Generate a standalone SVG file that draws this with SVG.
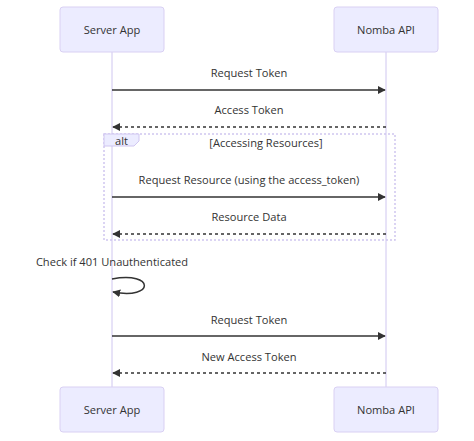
<svg xmlns="http://www.w3.org/2000/svg" width="474" height="441" viewBox="0 0 474 441">
<style>
text{font-family:"Open Sans","Liberation Sans",sans-serif;font-size:11.1px;fill:#333;}
.actor{fill:#ECECFF;stroke:#d9d0f3;stroke-width:1;}
.life{stroke:#cfc6f0;stroke-width:1;}
.msg{stroke:#333;stroke-width:1.5;fill:none;}
.dash{stroke-dasharray:3,3;}
.loop{fill:none;stroke:#d0c6f0;stroke-width:1.5;stroke-dasharray:2,2;}
.tab{fill:#ECECFF;stroke:#d0c6f0;stroke-width:1;}
</style>
<defs>
<marker id="ah" viewBox="0 0 10 10" refX="9" refY="5" markerWidth="8" markerHeight="8" markerUnits="userSpaceOnUse" orient="auto">
<path d="M0,0 L10,5 L0,10 z" fill="#333"/>
</marker>
</defs>
<rect width="474" height="441" fill="#fff"/>
<g id="lifelines">
<line class="life" x1="112" y1="52" x2="112" y2="387"/>
<line class="life" x1="386" y1="52" x2="386" y2="387"/>
</g>
<g id="actor-server-top">
<rect class="actor" x="60" y="7" width="104" height="45" rx="3"/>
<text x="112" y="34" text-anchor="middle">Server App</text>
</g>
<g id="actor-nomba-top">
<rect class="actor" x="334" y="7" width="104" height="45" rx="3"/>
<text x="386" y="34" text-anchor="middle">Nomba API</text>
</g>
<g id="alt-block">
<rect class="loop" x="104" y="134" width="291" height="106"/>
<path class="tab" d="M104,134 L139,134 L139,141 L134,146 L104,146 Z"/>
<text x="115" y="145">alt</text>
<text x="266" y="147" text-anchor="middle">[Accessing Resources]</text>
</g>
<g id="connectors">
<text x="249" y="77" text-anchor="middle">Request Token</text>
<line class="msg" x1="112" y1="90" x2="385" y2="90" marker-end="url(#ah)"/>
<text x="249" y="114" text-anchor="middle">Access Token</text>
<line class="msg dash" x1="386" y1="127" x2="113" y2="127" marker-end="url(#ah)"/>
<text x="249" y="184" text-anchor="middle">Request Resource (using the access_token)</text>
<line class="msg" x1="112" y1="197" x2="385" y2="197" marker-end="url(#ah)"/>
<text x="249" y="221" text-anchor="middle">Resource Data</text>
<line class="msg dash" x1="386" y1="234" x2="113" y2="234" marker-end="url(#ah)"/>
<text x="112" y="266" text-anchor="middle">Check if 401 Unauthenticated</text>
<path class="msg" d="M112,279 C155,271 155,300 113,292" marker-end="url(#ah)"/>
<text x="249" y="324" text-anchor="middle">Request Token</text>
<line class="msg" x1="112" y1="336" x2="385" y2="336" marker-end="url(#ah)"/>
<text x="249" y="361" text-anchor="middle">New Access Token</text>
<line class="msg dash" x1="386" y1="373" x2="113" y2="373" marker-end="url(#ah)"/>
</g>
<g id="actor-server-bottom">
<rect class="actor" x="60" y="387" width="104" height="45" rx="3"/>
<text x="112" y="414" text-anchor="middle">Server App</text>
</g>
<g id="actor-nomba-bottom">
<rect class="actor" x="334" y="387" width="104" height="45" rx="3"/>
<text x="386" y="414" text-anchor="middle">Nomba API</text>
</g>
</svg>
